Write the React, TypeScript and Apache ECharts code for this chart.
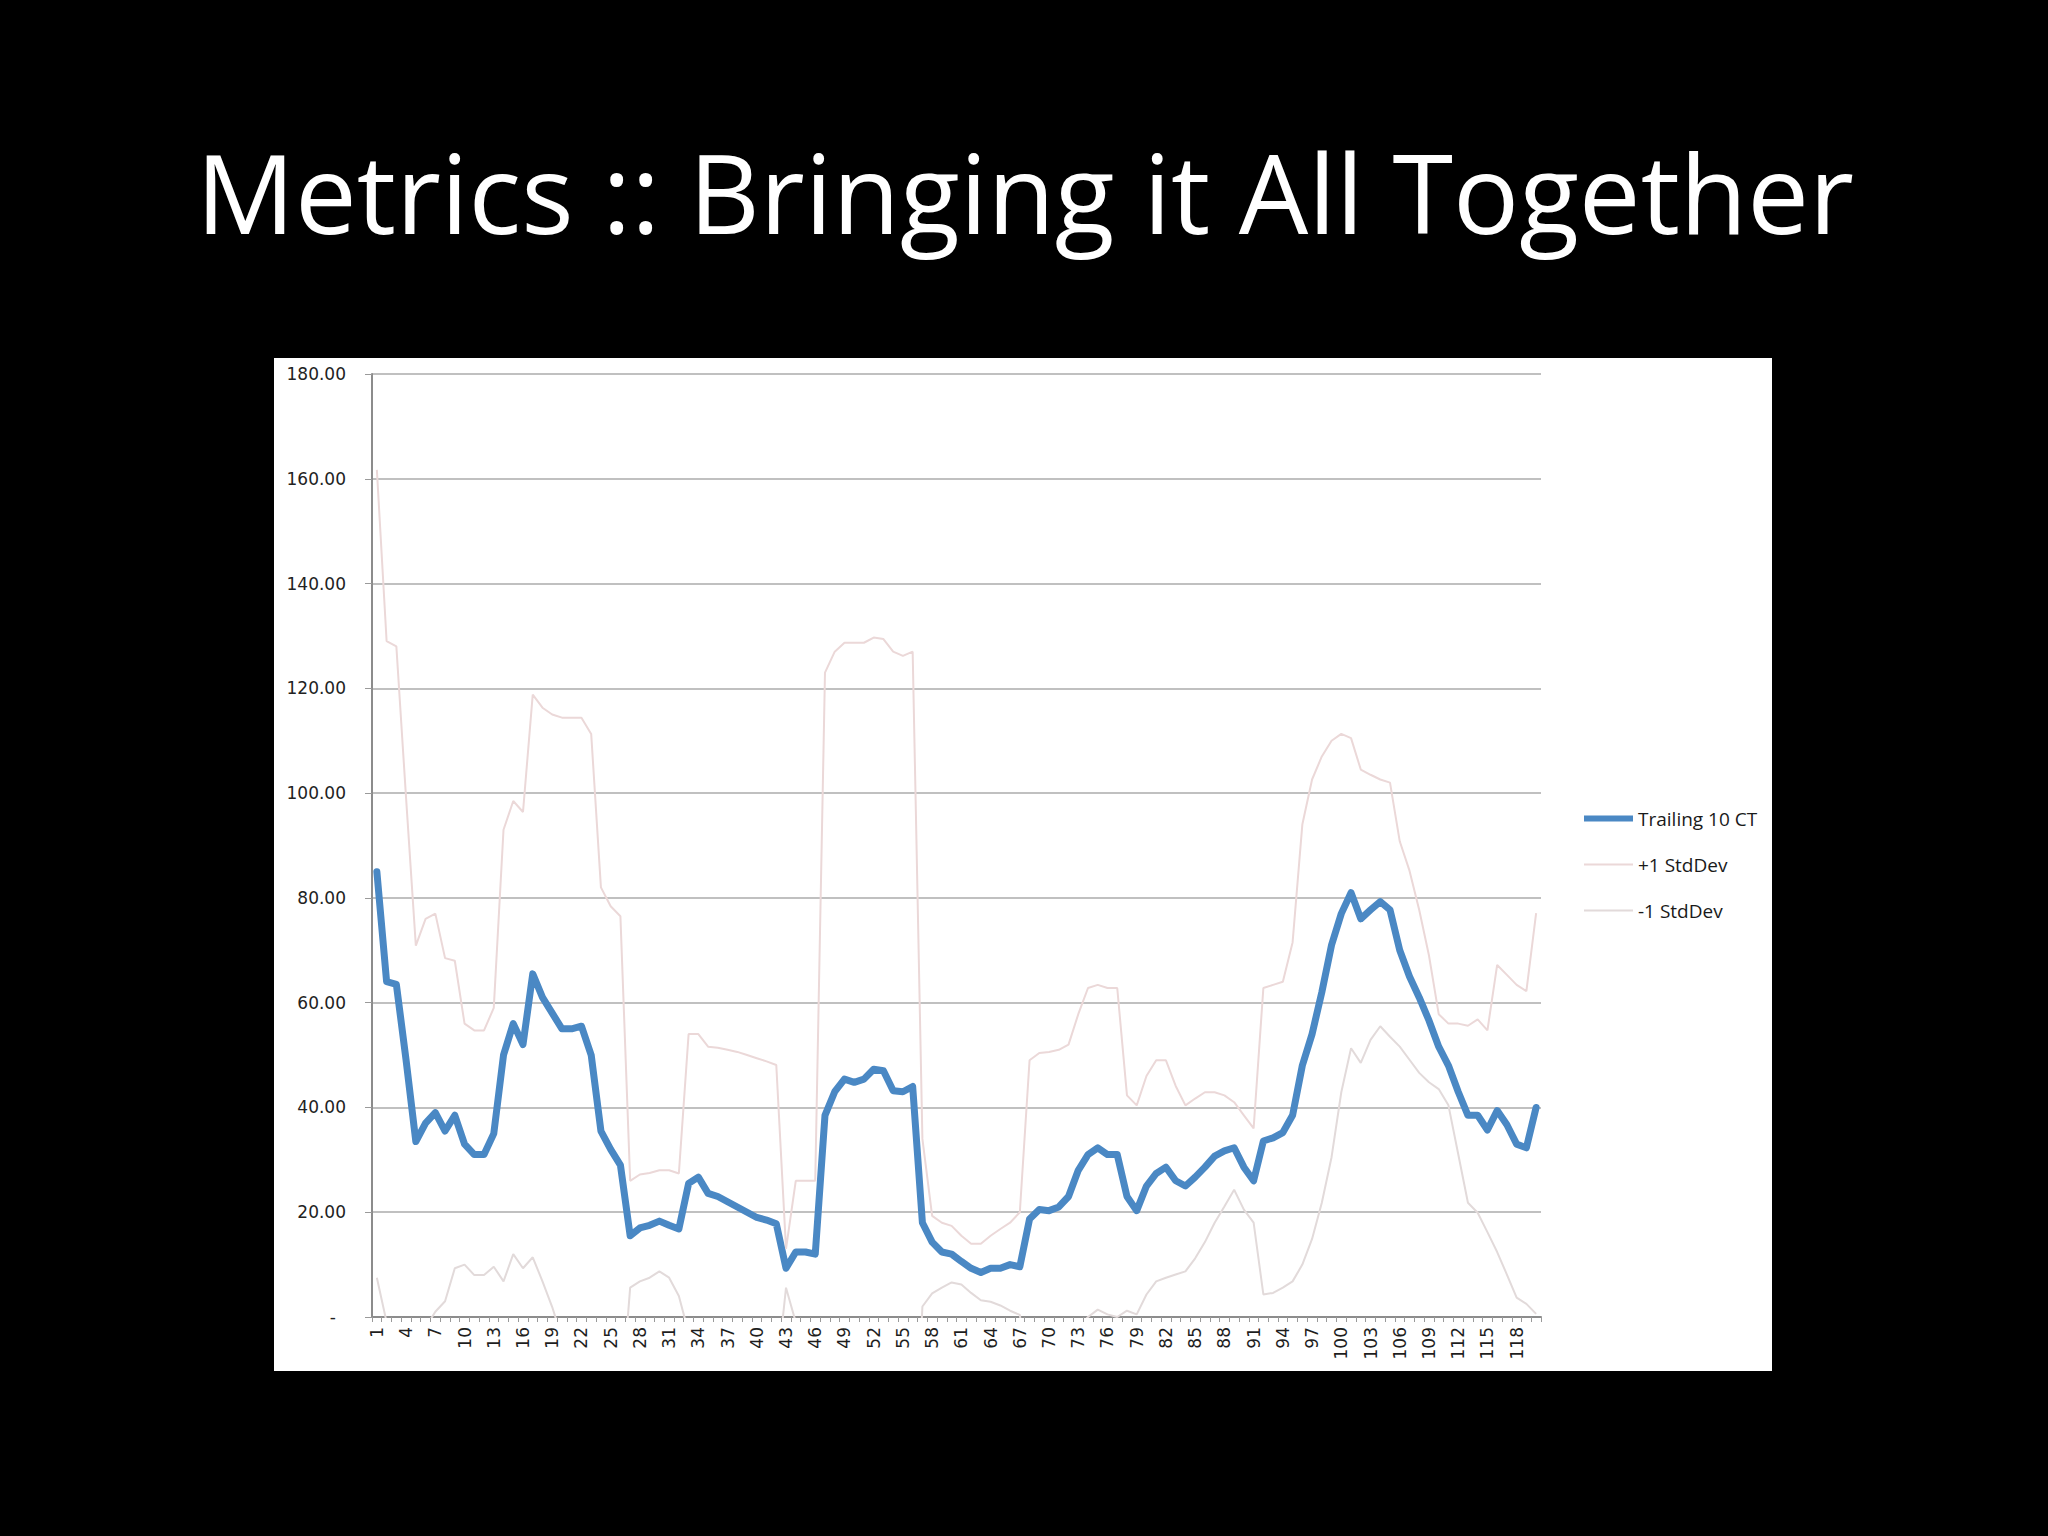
import React, { useEffect, useRef } from 'react';
import * as echarts from 'echarts';

const categories = [
  '1','2','3','4','5','6','7','8','9','10','11','12','13','14','15','16','17','18','19','20',
  '21','22','23','24','25','26','27','28','29','30','31','32','33','34','35','36','37','38','39','40',
  '41','42','43','44','45','46','47','48','49','50','51','52','53','54','55','56','57','58','59','60',
  '61','62','63','64','65','66','67','68','69','70','71','72','73','74','75','76','77','78','79','80',
  '81','82','83','84','85','86','87','88','89','90','91','92','93','94','95','96','97','98','99','100',
  '101','102','103','104','105','106','107','108','109','110','111','112','113','114','115','116','117','118','119','120',
];

const trailing10CT = [
  85, 64, 63.5, 49, 33.5, 37, 39, 35.5, 38.5, 33,
  31, 31, 35, 50, 56, 52, 65.5, 61, 58, 55,
  55, 55.5, 50, 35.5, 32, 29, 15.5, 17, 17.5, 18.3,
  17.5, 16.8, 25.5, 26.7, 23.6, 23, 22, 21, 20, 19,
  18.5, 17.8, 9.3, 12.4, 12.4, 12, 38.5, 43, 45.4, 44.8,
  45.4, 47.3, 47, 43.2, 43, 44, 18, 14.3, 12.4, 12,
  10.6, 9.3, 8.5, 9.3, 9.3, 10, 9.6, 18.7, 20.5, 20.3,
  21, 23, 28, 31, 32.3, 31, 31, 23, 20.3, 25,
  27.4, 28.6, 26, 25, 26.7, 28.6, 30.7, 31.7, 32.3, 28.6,
  26, 33.6, 34.2, 35.2, 38.5, 48, 54, 62, 71, 77,
  81, 76, 77.7, 79.3, 77.7, 70, 65, 61, 56.6, 51.6,
  48, 43, 38.5, 38.5, 35.7, 39.4, 36.7, 33, 32.3, 40,
];

const plusOneStdDev = [
  161.7, 129, 128, 99, 70.9, 76, 77, 68.5, 68, 56,
  54.7, 54.7, 59, 93, 98.5, 96.4, 118.8, 116.3, 115, 114.4,
  114.4, 114.4, 111.3, 82, 78.4, 76.5, 26, 27.2, 27.5, 28,
  28, 27.4, 54, 54, 51.6, 51.4, 51, 50.6, 50, 49.4,
  48.8, 48.1, 13, 26, 26, 26, 123, 127, 128.7, 128.7,
  128.7, 129.7, 129.4, 127, 126.2, 127, 34, 19.3, 18, 17.4,
  15.5, 14, 14, 15.5, 16.8, 18, 20, 49, 50.4, 50.6,
  51, 52, 57.8, 62.8, 63.4, 62.8, 62.8, 42.3, 40.4, 46,
  49, 49, 44.1, 40.4, 41.7, 42.9, 42.9, 42.3, 41, 38.5,
  36, 62.8, 63.4, 64, 71.5, 94, 102.6, 107, 110, 111.3,
  110.5, 104.5, 103.5, 102.6, 102, 90.8, 85.2, 77.7, 69, 57.8,
  56, 56, 55.6, 56.8, 54.7, 67.2, 65.3, 63.4, 62.2, 77.1,
];

const minusOneStdDev = [
  7.5, -1, -1, -2, -4, -2, 1, 3, 9.3, 10,
  8, 8, 9.6, 6.8, 12, 9.3, 11.4, 6.8, 1.9, -4,
  -4, -3, -11, -11, -14, -18, 5.6, 6.8, 7.5, 8.7,
  7.5, 4, -3, -1, -5, -5, -7, -8, -9, -10,
  -10, -12, 5.6, -1, -1, -2, -46, -41, -38, -39,
  -38, -35, -35, -41, -40, -39, 2, 4.5, 5.6, 6.6,
  6.2, 4.6, 3.2, 2.9, 2.2, 1.2, 0.4, -12, -9, -10,
  -9, -6, -2, 0, 1.4, 0.5, 0, 1.2, 0.5, 4.3,
  6.8, 7.5, 8.1, 8.7, 11.2, 14.3, 18, 21.1, 24.3, 20.5,
  18, 4.3, 4.6, 5.6, 6.8, 10, 14.9, 21.8, 30.5, 42.9,
  51.3, 48.5, 52.9, 55.5, 53.5, 51.6, 49.1, 46.6, 44.8, 43.5,
  40.4, 31.1, 21.8, 19.9, 16.2, 12.4, 8.1, 3.7, 2.5, 0.6,
];

const seriesNames = ['Trailing 10 CT', '+1 StdDev', '-1 StdDev'];
const seriesColors = ['#4a88c4', '#ebd8d8', '#e2dada'];
const yMin = 0;
const yMax = 180;
const yInterval = 20;
const titleText = 'Metrics :: Bringing it All Together';

const thickIcon = 'path://M0 0M0 16M0 5H49V11H0Z';
const thinIcon = 'path://M0 0M0 16M0 7H49V9H0Z';

export default function App() {
  const ref = useRef<HTMLDivElement>(null);

  useEffect(() => {
    document.body.style.margin = '0';
    document.body.style.background = '#000';
    const chart = echarts.init(ref.current as HTMLDivElement, null, { renderer: 'svg' });
    chart.setOption({
      animation: false,
      backgroundColor: '#000',
      graphic: [
        {
          type: 'rect',
          z: -100,
          shape: { x: 274, y: 358, width: 1498, height: 1013 },
          style: { fill: '#ffffff' },
        },
        {
          type: 'text',
          x: 1025,
          y: 191,
          style: {
            text: titleText,
            fill: '#ffffff',
            fontFamily: '"Open Sans", sans-serif',
            fontSize: 110,
            align: 'center',
            verticalAlign: 'middle',
          },
        },
      ],
      grid: { left: 372, top: 374, right: 507, bottom: 219, containLabel: false },
      legend: {
        orient: 'vertical',
        left: 1579,
        top: 804,
        itemWidth: 49,
        itemHeight: 16,
        itemGap: 27,
        itemStyle: { borderWidth: 0 },
        textStyle: { fontFamily: '"Open Sans", sans-serif', fontSize: 19, color: '#1a1a1a' },
        data: [
          { name: seriesNames[0], icon: thickIcon },
          { name: seriesNames[1], icon: thinIcon },
          { name: seriesNames[2], icon: thinIcon },
        ],
      },
      xAxis: {
        type: 'category',
        data: categories,
        boundaryGap: true,
        axisLine: { show: true, lineStyle: { color: '#8c8c8c', width: 2 } },
        axisTick: { show: true, interval: 0, length: 5, lineStyle: { color: '#9a9a9a', width: 1 } },
        axisLabel: {
          interval: 2,
          rotate: 90,
          margin: 10,
          fontFamily: '"DejaVu Sans", sans-serif',
          fontSize: 17,
          color: '#1e1e1e',
        },
        splitLine: { show: false },
      },
      yAxis: {
        type: 'value',
        min: yMin,
        max: yMax,
        interval: yInterval,
        axisLine: { show: true, lineStyle: { color: '#8c8c8c', width: 2 } },
        axisTick: { show: true, length: 7, lineStyle: { color: '#9a9a9a', width: 1 } },
        splitLine: { show: true, lineStyle: { color: '#c0c0c0', width: 2 } },
        axisLabel: {
          margin: 26,
          fontFamily: '"DejaVu Sans", sans-serif',
          fontSize: 17,
          color: '#222',
          formatter: (v: number) => (v === 0 ? '{d|-}' : v.toFixed(2)),
          rich: { d: { padding: [0, 10, 0, 0], fontFamily: '"DejaVu Sans", sans-serif', fontSize: 17, color: '#222' } },
        },
      },
      series: [
        {
          name: seriesNames[0],
          type: 'line',
          data: trailing10CT,
          symbol: 'none',
          clip: true,
          lineStyle: { color: seriesColors[0], width: 7, cap: 'round', join: 'round' },
          itemStyle: { color: seriesColors[0] },
        },
        {
          name: seriesNames[1],
          type: 'line',
          data: plusOneStdDev,
          symbol: 'none',
          clip: true,
          lineStyle: { color: seriesColors[1], width: 2 },
          itemStyle: { color: seriesColors[1] },
        },
        {
          name: seriesNames[2],
          type: 'line',
          data: minusOneStdDev,
          symbol: 'none',
          clip: true,
          lineStyle: { color: seriesColors[2], width: 2 },
          itemStyle: { color: seriesColors[2] },
        },
      ],
    });
    return () => chart.dispose();
  }, []);

  return (
    <div
      ref={ref}
      style={{ width: 2048, height: 1536, position: 'absolute', left: 0, top: 0 }}
    />
  );
}
